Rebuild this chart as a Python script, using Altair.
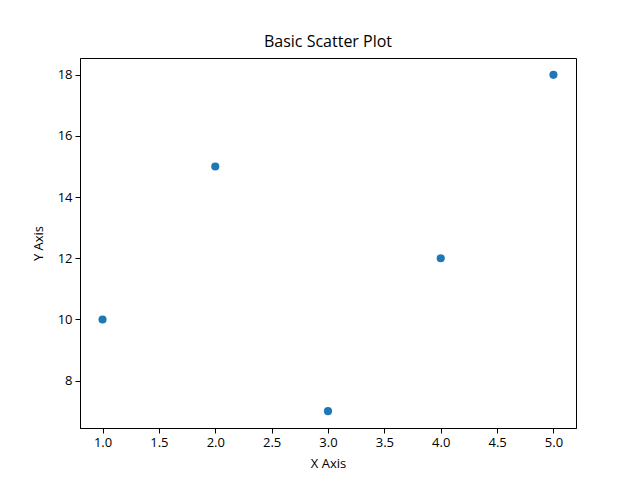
import altair as alt
import pandas as pd

x_vals = [1, 2, 3, 4, 5]
y_vals = [10, 15, 7, 12, 18]
x_ticks = [1.0, 1.5, 2.0, 2.5, 3.0, 3.5, 4.0, 4.5, 5.0]
y_ticks = [8, 10, 12, 14, 16, 18]

df = pd.DataFrame({"x": x_vals, "y": y_vals})
FONT = "Open Sans"

chart = alt.Chart(df).mark_circle(size=66, color="#1f77b4", opacity=1).encode(
    x=alt.X("x:Q", scale=alt.Scale(domain=[0.8, 5.2], nice=False, zero=False),
            axis=alt.Axis(values=x_ticks, format=".1f", title="X Axis", grid=False,
                          labelFlush=False, labelOverlap=False, tickSize=5, labelPadding=3,
                          titlePadding=8)),
    y=alt.Y("y:Q", scale=alt.Scale(domain=[6.45, 18.55], nice=False, zero=False),
            axis=alt.Axis(values=y_ticks, format="d", title="Y Axis", grid=False,
                          labelFlush=False, labelOverlap=False, tickSize=5, labelPadding=3,
                          titlePadding=12)),
).properties(
    width=496, height=370,
    title=alt.TitleParams("Basic Scatter Plot", fontSize=16, font=FONT, fontWeight="normal",
                          color="black", offset=8),
    autosize=alt.AutoSizeParams(type="none"),
    padding={"left": 72, "top": 50, "right": 56, "bottom": 44},
).configure_axis(
    domainColor="black", tickColor="black", labelColor="black", titleColor="black",
    labelFont=FONT, titleFont=FONT, labelFontSize=13, titleFontSize=13,
    titleFontWeight="normal", domainWidth=1, tickWidth=1,
).configure_view(stroke="black", strokeWidth=1)

chart.save("out.html", embed_options={"renderer": "svg", "actions": False})
